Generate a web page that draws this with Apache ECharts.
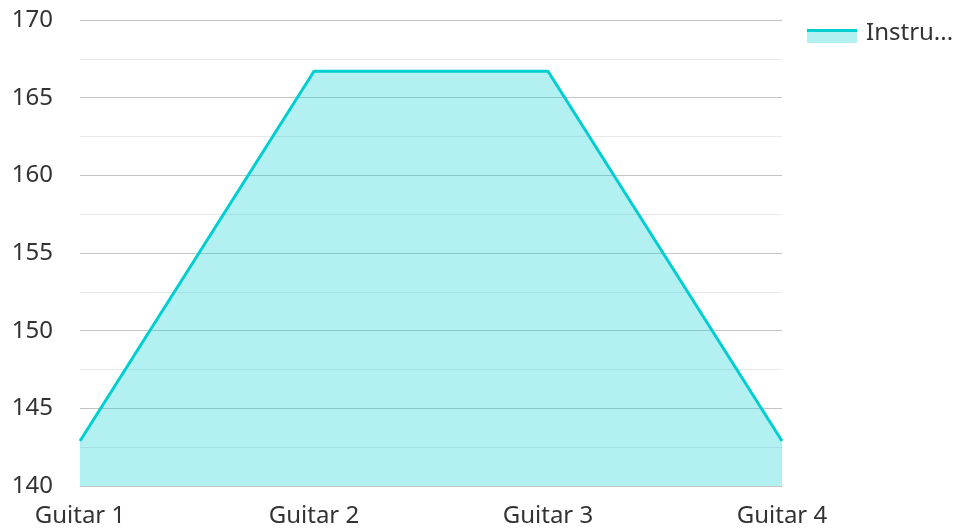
<!DOCTYPE html>
<html>
<head>
<meta charset="utf-8">
<script src="https://cdn.jsdelivr.net/npm/echarts@6/dist/echarts.min.js"></script>
<style>
html,body{margin:0;padding:0;background:#fff;}
#c{width:958px;height:528px;}
</style>
</head>
<body>
<div id="c"></div>
<script>
var categories = ['Guitar 1', 'Guitar 2', 'Guitar 3', 'Guitar 4'];
var seriesName = 'Instrument Price';
var values = [142.9, 166.7, 166.7, 142.9];
var yTicks = { min: 140, max: 170, interval: 5 };

var lineColor = '#00CED1';
var iconSvg = '<svg xmlns="http://www.w3.org/2000/svg" width="50" height="24">' +
  '<rect x="0" y="10" width="50" height="12" fill="' + lineColor + '" fill-opacity="0.3"/>' +
  '<rect x="0" y="8" width="50" height="3" fill="' + lineColor + '"/></svg>';
var iconUri = 'image://data:image/svg+xml;charset=utf-8,' + encodeURIComponent(iconSvg);

var chart = echarts.init(document.getElementById('c'), null, { renderer: 'canvas' });
chart.setOption({
  animation: false,
  textStyle: { fontFamily: 'Noto Sans' },
  grid: { left: 80, right: 176, top: 20, bottom: 41, containLabel: false },
  legend: {
    left: 807, top: 21, padding: 0,
    itemWidth: 50, itemHeight: 24, itemGap: 10,
    data: [{ name: seriesName, icon: iconUri }],
    textStyle: { fontSize: 24, color: '#333', fontFamily: 'Noto Sans', width: 100, overflow: 'truncate', ellipsis: '...', padding: [0, 0, 0, 4] }
  },
  xAxis: {
    type: 'category',
    data: categories,
    boundaryGap: false,
    axisLine: { show: true, lineStyle: { color: '#c4c4c4', width: 1 } },
    axisTick: { show: false },
    axisLabel: { fontSize: 24, color: '#333', margin: 18, fontFamily: 'Noto Sans' },
    splitLine: { show: false }
  },
  yAxis: {
    type: 'value',
    min: yTicks.min, max: yTicks.max, interval: yTicks.interval,
    axisLine: { show: false },
    axisTick: { show: false },
    axisLabel: { fontSize: 24, color: '#333', margin: 27, fontFamily: 'Noto Sans' },
    splitLine: { show: true, lineStyle: { color: '#c4c4c4', width: 1 } },
    minorTick: { show: false, splitNumber: 2 },
    minorSplitLine: { show: true, lineStyle: { color: '#e8e8e8', width: 1 } }
  },
  series: [{
    name: seriesName,
    type: 'line',
    data: values,
    showSymbol: false,
    symbol: 'none',
    lineStyle: { color: lineColor, width: 3 },
    itemStyle: { color: lineColor },
    areaStyle: { color: lineColor, opacity: 0.3 }
  }]
});
</script>
</body>
</html>
